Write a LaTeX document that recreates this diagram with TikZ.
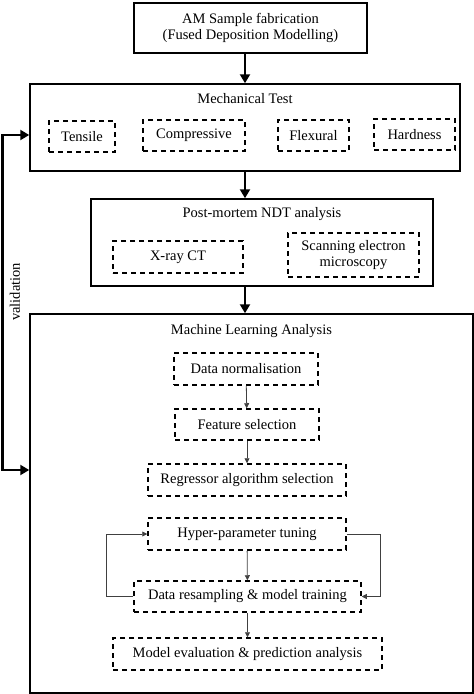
\documentclass[tikz,border=0pt]{standalone}
\usepackage{fontspec}
\setmainfont{Liberation Serif}
\usetikzlibrary{arrows.meta}

\begin{document}
\begin{tikzpicture}[x=1pt,y=-1pt,
  bigbox/.style={draw,line width=1.5pt,inner sep=0pt},
  dashbox/.style={draw,line width=1.5pt,dash pattern=on 5pt off 4pt,inner sep=0pt,align=center},
  bigarrow/.style={line width=2.6pt,-{Triangle[length=9pt,width=10pt]}},
  thinarrow/.style={line width=0.8pt,color=black!75,-{Triangle[length=5pt,width=5pt]}},
  font=\fontsize{14.5}{16}\selectfont]
\useasboundingbox (0,0) rectangle (474,694);
\node[bigbox,minimum width=233pt,minimum height=50pt,align=center] (am) at (250.5,28)
  {AM Sample fabrication\\(Fused Deposition Modelling)};
% mechanical tests
\node[bigbox,minimum width=430pt,minimum height=87pt] (mech) at (245,127.5) {};
\node (mechtitle) at (245,99) {Mechanical Test};
\node[dashbox,minimum width=66pt,minimum height=31pt] (tensile) at (82,136.5) {Tensile};
\node[dashbox,minimum width=102pt,minimum height=31pt] (compr) at (194,135.5) {Compressive};
\node[dashbox,minimum width=71pt,minimum height=31pt] (flex) at (313.5,135.5) {Flexural};
\node[dashbox,minimum width=81pt,minimum height=31pt] (hard) at (414.5,134.5) {Hardness};
% NDT
\node[bigbox,minimum width=342pt,minimum height=87pt] (ndt) at (262,242.5) {};
\node (ndttitle) at (262,214) {Post-mortem NDT analysis};
\node[dashbox,minimum width=130pt,minimum height=32pt] (xray) at (178,257) {X-ray CT};
\node[dashbox,minimum width=131pt,minimum height=44pt] (sem) at (353.5,255) {Scanning electron\\microscopy};
% machine learning
\node[bigbox,minimum width=443pt,minimum height=379pt] (ml) at (251.5,503.5) {};
\node (mltitle) at (251.5,331) {Machine Learning Analysis};
\node[dashbox,minimum width=144pt,minimum height=32pt] (norm) at (246,369) {Data normalisation};
\node[dashbox,minimum width=144pt,minimum height=31pt] (feat) at (247,424.5) {Feature selection};
\node[dashbox,minimum width=198pt,minimum height=32pt] (regr) at (247,480) {Regressor algorithm selection};
\node[dashbox,minimum width=198pt,minimum height=32pt] (hyper) at (247,534) {Hyper-parameter tuning};
\node[dashbox,minimum width=227pt,minimum height=31pt] (resamp) at (247.5,596.5) {Data resampling \& model training};
\node[dashbox,minimum width=269pt,minimum height=32pt] (evalm) at (247.5,654) {Model evaluation \& prediction analysis};
\node[rotate=90] (valid) at (15,292) {validation};

\draw[bigarrow] (am.south -| mech.north) -- (mech.north);
\draw[bigarrow] (mech.south) -- (mech.south |- ndt.north);
\draw[bigarrow] (ndt.south -| mech.south) -- (ml.north -| mech.south);
\draw[bigarrow,{Triangle[length=9pt,width=10pt]}-{Triangle[length=9pt,width=10pt]}]
  (mech.west |- 0,135) -- ++(-27,0) |- (ml.west |- 0,470);
\draw[thinarrow] (norm) -- (feat);
\draw[thinarrow] (feat) -- (regr);
\draw[thinarrow] (hyper) -- (resamp);
\draw[thinarrow] (resamp) -- (evalm);
\draw[thinarrow] (resamp.west) -- ++(-27,0) |- (hyper.west);
\draw[thinarrow] (hyper.east) -- ++(34,0) |- (resamp.east);
\end{tikzpicture}
\end{document}
